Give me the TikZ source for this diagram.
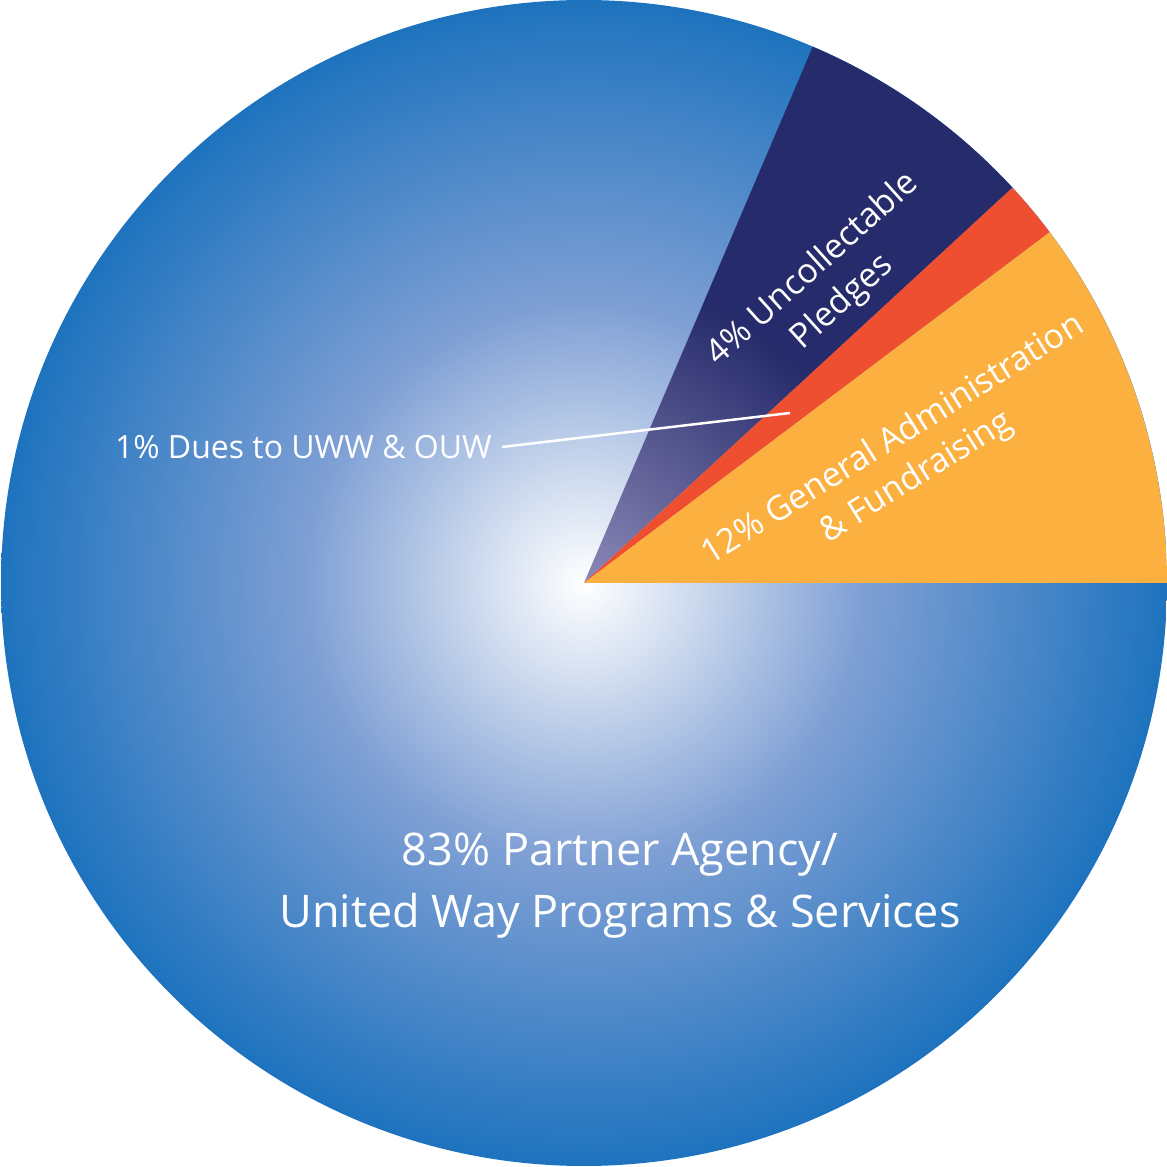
\documentclass[tikz,border=0pt]{standalone}
\usepackage{fontspec}
\setmainfont{Open Sans}
\definecolor{bedge}{HTML}{1E73BE}
\definecolor{bmid}{HTML}{7E9FD4}
\definecolor{navy}{HTML}{262B6B}
\definecolor{navyl}{HTML}{8C89B8}
\definecolor{sred}{HTML}{EE4F30}
\definecolor{sorange}{HTML}{FBB040}
\pgfdeclareradialshading{ball}{\pgfpoint{0bp}{0bp}}{color(0bp)=(white); color(12bp)=(bmid); color(25bp)=(bedge); color(100bp)=(bedge)}
\pgfdeclareradialshading{navyball}{\pgfpoint{0bp}{0bp}}{color(0bp)=(navyl); color(13bp)=(navy); color(100bp)=(navy)}
\tikzset{lbl/.style={text=white, font=\fontsize{34}{44}\selectfont, align=center, inner sep=0pt}}
\begin{document}
\begin{tikzpicture}[x=1pt,y=1pt]
\useasboundingbox (0,0) rectangle (1167,1167);
\coordinate (c) at (584,584);
\shade[shading=ball] (c) circle (583);
\begin{scope}
\clip (c) -- ++(42.7:583) arc (42.7:66.9:583) -- cycle;
\shade[shading=navyball] (c) circle (583);
\end{scope}
\fill[sred] (c) -- ++(37:583) arc (37:42.7:583) -- cycle;
\fill[sorange] (c) -- ++(0:583) arc (0:37:583) -- cycle;
\node[lbl, rotate=42] (unc) at (828,881) {4\% Uncollectable\\Pledges};
\node[lbl, rotate=32] (gen) at (905,708) {12\% General Administration\\\& Fundraising};
\node[lbl, anchor=east, font=\fontsize{32}{38}\selectfont] (dues) at (492,720) {1\% Dues to UWW \& OUW};
\coordinate (duesend) at (790,754);
\draw[white, line width=2.5] (dues.east) ++(10,0) -- (duesend);
\node[lbl, font=\fontsize{45}{62}\selectfont] (main) at (620,281) {83\% Partner Agency/\\United Way Programs \& Services};
\end{tikzpicture}
\end{document}
